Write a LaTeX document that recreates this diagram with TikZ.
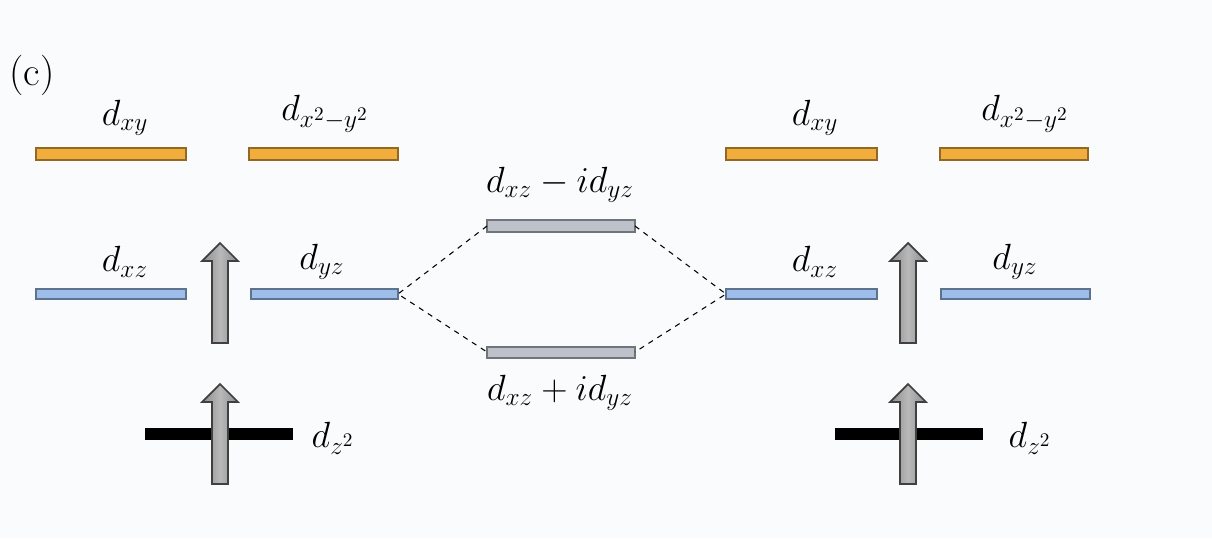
\documentclass[tikz,border=0pt]{standalone}
\begin{document}
\begin{tikzpicture}[x=0.02cm,y=-0.02cm,
  lvl/.style={draw=#1!60!black,line width=0.6pt,fill=#1},
  lab/.style={font=\fontsize{21}{24}\selectfont},
  spin/.style={draw=black!75,line width=1pt,left color=gray!90,right color=gray!90,middle color=gray!55},
  dsh/.style={dashed,line width=0.6pt}]
\definecolor{orb}{HTML}{F2AE3C}\definecolor{blu}{HTML}{9DBDEB}\definecolor{gry}{HTML}{BCC1CA}\definecolor{bg}{HTML}{F9FBFD}
\newcommand{\spinup}[2]{\path[spin] (#1-8,#2+50) -- (#1-8,#2-32) -- (#1-18,#2-32) -- (#1,#2-50) -- (#1+18,#2-32) -- (#1+8,#2-32) -- (#1+8,#2+50) -- cycle;}
\fill[bg] (0,0) rectangle (1212,538);
\useasboundingbox (0,0) rectangle (1212,538);
\node[font=\fontsize{23}{26}\selectfont] (c) at (32,75) {(c)};
% left
\path[lvl=orb] (36,148) rectangle (186,160);
\path[lvl=orb] (249,148) rectangle (398,160);
\path[lvl=blu] (36,289) rectangle (186,299);
\path[lvl=blu] (251,289) rectangle (398,299);
\fill[black] (145,428) rectangle (293,440);
\spinup{220}{293}
\spinup{220}{434}
% middle
\path[lvl=gry] (487,220) rectangle (635,232);
\path[lvl=gry] (487,347) rectangle (635,358);
% right
\path[lvl=orb] (726,148) rectangle (877,160);
\path[lvl=orb] (940,148) rectangle (1088,160);
\path[lvl=blu] (726,289) rectangle (877,299);
\path[lvl=blu] (941,289) rectangle (1090,299);
\fill[black] (835,428) rectangle (983,440);
\spinup{908}{293}
\spinup{908}{434}
% dashed
\coordinate (p1) at (398,294); \coordinate (p2) at (487,226); \coordinate (p3) at (487,352);
\coordinate (p4) at (635,226); \coordinate (p5) at (635,352); \coordinate (p6) at (726,294);
\draw[dsh] (p2) -- (p1) -- (p3);
\draw[dsh] (p4) -- (p6) -- (p5);
% labels
\node[lab] (t1) at (125,118) {$d_{xy}$};
\node[lab] (t2) at (325,114) {$d_{x^2-y^2}$};
\node[lab] (t3) at (125,262) {$d_{xz}$};
\node[lab] (t4) at (322,262) {$d_{yz}$};
\node[lab] (t5) at (560,185) {$d_{xz}-id_{yz}$};
\node[lab] (t6) at (560,393) {$d_{xz}+id_{yz}$};
\node[lab] (t7) at (333,438) {$d_{z^2}$};
\node[lab] (t8) at (815,118) {$d_{xy}$};
\node[lab] (t9) at (1025,114) {$d_{x^2-y^2}$};
\node[lab] (t10) at (815,262) {$d_{xz}$};
\node[lab] (t11) at (1015,262) {$d_{yz}$};
\node[lab] (t12) at (1030,438) {$d_{z^2}$};
\end{tikzpicture}
\end{document}
